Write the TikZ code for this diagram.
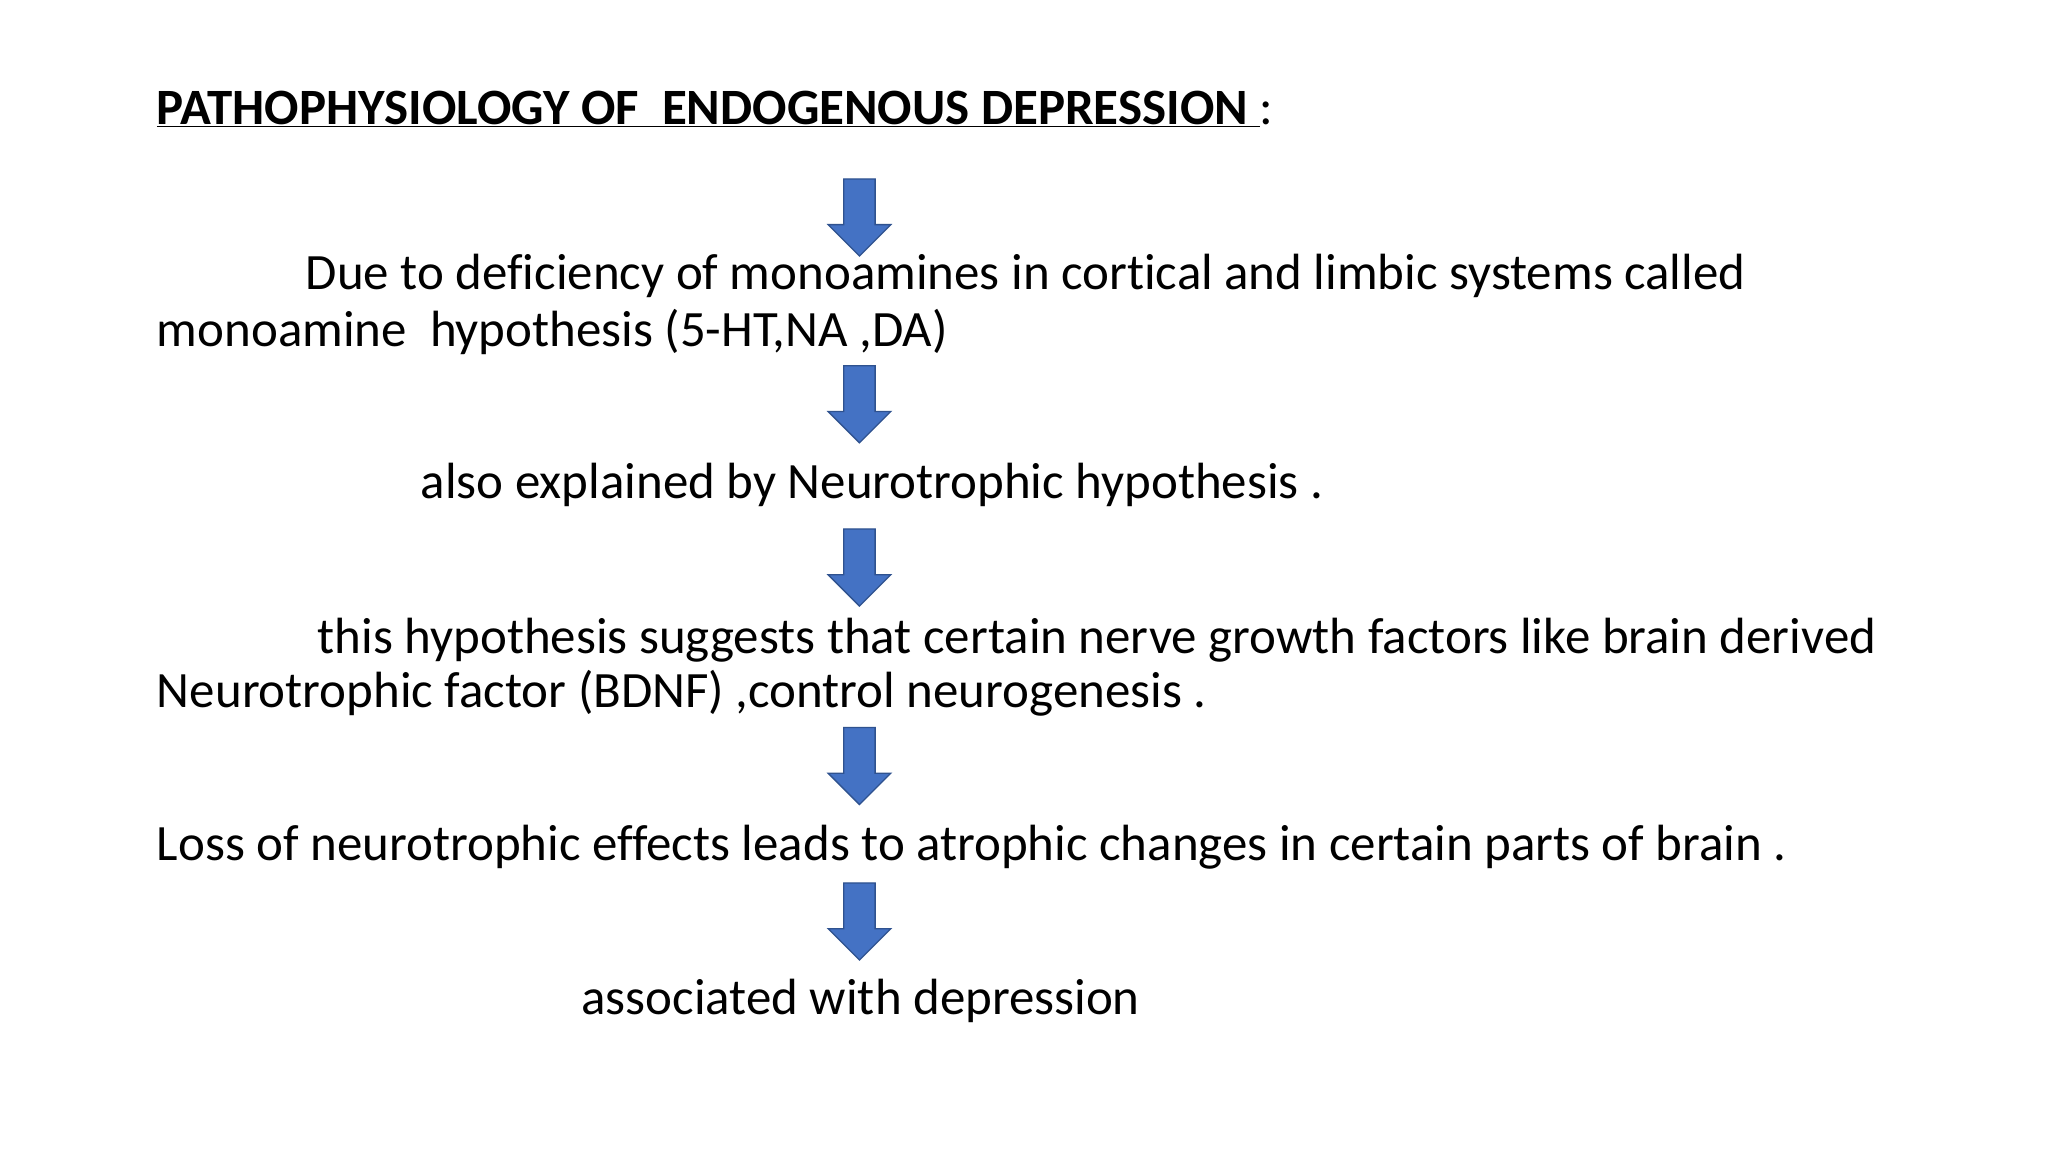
\documentclass[tikz,border=0pt]{standalone}
\usepackage{fontspec}
\setmainfont[Ligatures=NoCommon]{Carlito}
\definecolor{arrfill}{HTML}{4472C4}
\definecolor{arrline}{HTML}{2F528F}
\begin{document}
\begin{tikzpicture}[x=1pt,y=-1pt,
  txt/.style={anchor=base west,inner sep=0pt,font=\fontsize{39}{42}\selectfont},
  downarrow/.style={fill=arrfill,draw=arrline,line width=1pt}]
\useasboundingbox (0,0) rectangle (1568,882);
\fill[white] (0,0) rectangle (1568,882);
\node[txt] (title) at (120,95) {\underline{\textbf{PATHOPHYSIOLOGY OF\ \ ENDOGENOUS DEPRESSION\ }}:};
\node[txt] (l1) at (234,222) {Due to deficiency of monoamines in cortical and limbic systems called};
\node[txt] (l2) at (120,265) {monoamine\ \ hypothesis (5-HT,NA ,DA)};
\node[txt] (l3) at (322,382) {also explained by Neurotrophic hypothesis .};
\node[txt] (l4) at (243,500) {this hypothesis suggests that certain nerve growth factors like brain derived};
\node[txt] (l5) at (120,542) {Neurotrophic factor (BDNF) ,control neurogenesis .};
\node[txt] (l6) at (120,659) {Loss of neurotrophic effects leads to atrophic changes in certain parts of brain .};
\node[txt] (l7) at (445,777) {associated with depression};
\foreach \t in {137,280,405,557,676}{
  \draw[downarrow] (646,\t) -- (670,\t) -- (670,\t+35) -- (682,\t+35) -- (658,\t+59) -- (634,\t+35) -- (646,\t+35) -- cycle;
}
\end{tikzpicture}
\end{document}
